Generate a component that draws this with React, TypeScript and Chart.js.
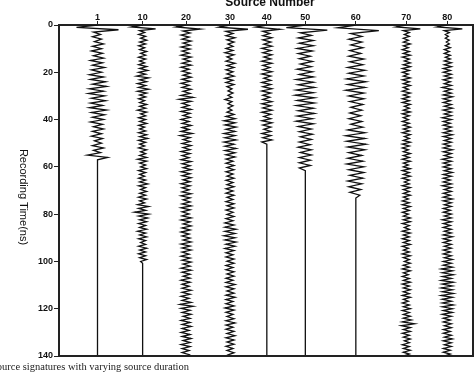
import React, { useEffect, useRef } from 'react';
import { Chart, registerables } from 'chart.js';

Chart.register(...registerables);

// ---- data ----
const X_TITLE = 'Source Number';
const Y_TITLE = 'Recording Time(ns)';
const CAPTION = 'Source signatures with varying source duration';

const SOURCE_LABELS = ['1', '10', '20', '30', '40', '50', '60', '70', '80'];
// trace positions on the (unitless) horizontal display axis 0..100
const TRACE_POS = [9.3, 20.2, 30.7, 41.3, 50.2, 59.5, 71.7, 83.9, 93.8];
const SAMPLE_DT = [1.0, 0.8, 0.85, 0.9, 0.9, 1.1, 1.2, 0.8, 0.8];
const TIME_TICKS = [0, 20, 40, 60, 80, 100, 120, 140];
const T_MAX = 140;
const AMP_GAIN = 0.2415; // amplitude units -> display axis units

const TRACE_1 = [
  -21, 21, -4, 3, -5, 4, -3, 6, -5, 4, -6, 5, -4, 6, -7, 5, -5, 7, -6, 4,
  -8, 6, -7, 8, -5, 9, -8, 6, -9, 7, -6, 8, -7, 5, -8, 9, -6, 7, -5, 6,
  -7, 5, -4, 6, -5, 4, -6, 5, -3, 4, -5, 6, -4, 3, -10, 10,
];
const TRACE_10 = [
  -11, 13, -3, 2, -4, 3, -2, 4, -3, 3, -4, 2, -3, 4, -2, 3, -4, 3, -3, 2,
  -4, 4, -3, 5, -4, 3, -6, 6, -3, 4, -5, 3, -4, 6, -5, 4, -3, 3, -4, 2,
  -3, 4, -3, 3, -5, 4, -2, 3, -4, 3, -3, 4, -4, 2, -3, 3, -4, 4, -3, 5,
  -4, 3, -3, 2, -4, 4, -2, 3, -3, 4, -5, 4, -3, 3, -2, 4, -4, 3, -3, 2,
  -4, 3, -3, 5, -4, 3, -2, 4, -3, 3, -4, 4, -3, 2, -5, 6, -4, 3, -8, 6,
  -4, 5, -3, 4, -4, 3, -3, 4, -5, 3, -3, 4, -4, 3, -2, 3, -4, 4, -3, 3,
  -4, 3, -3, 4, -2,
];
const TRACE_20 = [
  -10, 14, -3, 4, -5, 3, -4, 5, -3, 4, -5, 4, -4, 3, -5, 5, -3, 4, -4, 5,
  -5, 3, -4, 4, -3, 5, -4, 4, -5, 3, -4, 5, -3, 4, -5, 7, -7, 5, -4, 3,
  -4, 5, -5, 4, -3, 4, -5, 3, -4, 5, -4, 3, -5, 6, -6, 4, -3, 4, -4, 5,
  -3, 4, -5, 4, -4, 3, -5, 5, -4, 4, -3, 5, -5, 4, -4, 5, -3, 4, -5, 4,
  -4, 3, -4, 5, -5, 4, -3, 4, -4, 5, -5, 4, -4, 3, -4, 5, -5, 4, -3, 5,
  -4, 4, -5, 3, -4, 4, -3, 5, -5, 4, -4, 5, -4, 3, -5, 4, -4, 5, -3, 4,
  -5, 5, -4, 4, -3, 4, -5, 4, -4, 3, -4, 5, -4, 4, -5, 3, -4, 5, -6, 7,
  -5, 4, -4, 5, -3, 4, -5, 4, -4, 5, -4, 3, -5, 4, -4, 5, -3, 4, -5, 4,
  -4, 3, -4, 3,
];
const TRACE_30 = [
  -11, 18, -4, 3, -4, 5, -3, 4, -2, 3, -4, 3, -5, 4, -3, 2, -4, 5, -3, 4,
  -4, 3, -3, 4, -5, 3, -4, 4, -3, 2, -2, 3, -2, 2, -5, 2, -2, 3, -2, 2,
  -3, 4, -4, 5, -6, 5, -5, 6, -4, 5, -6, 5, -5, 6, -6, 4, -5, 6, -5, 5,
  -4, 5, -4, 3, -4, 4, -3, 4, -4, 3, -3, 4, -4, 3, -3, 4, -4, 3, -4, 4,
  -3, 3, -4, 4, -3, 4, -4, 3, -3, 4, -4, 3, -5, 4, -5, 6, -5, 5, -6, 5,
  -5, 6, -4, 5, -5, 4, -4, 3, -4, 4, -3, 4, -4, 3, -4, 4, -3, 4, -4, 3,
  -4, 5, -4, 4, -3, 4, -4, 5, -4, 3, -4, 4, -5, 4, -4, 3, -3, 4, -4, 5,
  -4, 3, -4, 4, -3, 5, -4, 4, -3, 4, -4, 3, -3, 4, -2,
];
const TRACE_40 = [
  -11, 13, -4, 3, -4, 5, -4, 4, -3, 5, -5, 4, -4, 5, -3, 4, -5, 5, -4, 3,
  -4, 5, -5, 4, -3, 4, -5, 4, -4, 5, -5, 4, -4, 3, -4, 5, -5, 4, -4, 5,
  -5, 4, -3, 4, -5, 5, -4, 4, -3, 4, -5, 4, -4, 5, -5,
];
const TRACE_50 = [
  -19, 22, -5, 6, -7, 8, -6, 8, -8, 7, -7, 5, -6, 7, -5, 6, -8, 7, -6, 8,
  -9, 8, -7, 9, -9, 8, -10, 9, -8, 9, -9, 8, -7, 9, -8, 7, -9, 8, -7, 6,
  -6, 7, -5, 6, -6, 5, -7, 6, -5, 6, -6, 5, -6, 5, -6,
];
const TRACE_60 = [
  -18, 23, -5, 6, -7, 6, -5, 7, -6, 5, -7, 8, -6, 7, -8, 9, -7, 8, -9, 10,
  -8, 9, -10, 8, -7, 8, -6, 7, -5, 6, -6, 5, -7, 6, -5, 7, -8, 9, -10, 9,
  -9, 10, -8, 9, -7, 6, -8, 7, -9, 8, -7, 8, -6, 7, -8, 6, -7, 5, -6, 4,
];
const TRACE_70 = [
  -10, 14, -3, 3, -2, 3, -3, 2, -3, 4, -3, 2, -4, 3, -3, 4, -4, 3, -2, 4,
  -3, 4, -4, 3, -4, 2, -3, 4, -4, 3, -3, 4, -3, 2, -4, 4, -3, 3, -4, 3,
  -4, 4, -2, 3, -3, 4, -4, 3, -3, 2, -4, 3, -3, 4, -3, 3, -4, 4, -2, 3,
  -3, 4, -4, 3, -4, 2, -3, 4, -3, 3, -4, 4, -3, 2, -3, 4, -4, 3, -3, 4,
  -4, 3, -2, 3, -4, 4, -3, 3, -3, 4, -3, 2, -4, 3, -4, 4, -3, 3, -4, 2,
  -3, 4, -3, 4, -4, 3, -2, 3, -4, 4, -3, 3, -4, 3, -3, 4, -4, 2, -3, 3,
  -4, 4, -3, 3, -2, 4, -3, 3, -4, 4, -3, 2, -4, 3, -3, 4, -4, 3, -3, 4,
  -3, 3, -4, 4, -3, 2, -4, 3, -3, 4, -4, 3, -3, 4, -3, 5, -4, 8, -5, 4,
  -3, 4, -4, 3, -3, 4, -2, 3, -4, 3, -3, 4, -3, 3, -3,
];
const TRACE_80 = [
  -10, 15, -3, 2, -2, 1, -2, 2, -1, 2, -2, 3, -3, 2, -3, 3, -2, 3, -3, 4,
  -3, 4, -4, 3, -4, 4, -3, 4, -4, 3, -3, 4, -5, 4, -3, 4, -4, 5, -4, 3,
  -4, 4, -3, 5, -4, 4, -3, 4, -5, 4, -4, 3, -4, 4, -3, 4, -4, 5, -4, 4,
  -3, 4, -4, 3, -4, 5, -4, 4, -3, 4, -5, 4, -4, 3, -4, 4, -3, 5, -4, 4,
  -4, 3, -4, 4, -5, 4, -3, 4, -4, 3, -4, 5, -4, 4, -3, 4, -4, 3, -4, 4,
  -3, 4, -5, 4, -4, 3, -4, 4, -3, 4, -4, 5, -4, 3, -4, 4, -3, 4, -4, 3,
  -4, 4, -3, 5, -4, 4, -4, 5, -6, 5, -5, 6, -5, 4, -6, 6, -5, 5, -6, 5,
  -5, 6, -6, 5, -5, 4, -5, 6, -5, 5, -4, 5, -5, 4, -4, 3, -4, 4, -3, 4,
  -4, 3, -4, 4, -3, 5, -4, 4, -3, 4, -4, 3, -4, 3, -3,
];
const TRACES = [TRACE_1, TRACE_10, TRACE_20, TRACE_30, TRACE_40, TRACE_50, TRACE_60, TRACE_70, TRACE_80];

const FONT = '"Liberation Sans", Arial, Helvetica, sans-serif';

function buildTrace(i: number) {
  const base = TRACE_POS[i];
  const dt = SAMPLE_DT[i];
  const amps = TRACES[i];
  const pts: { x: number; y: number }[] = [{ x: base, y: 0 }];
  amps.forEach((a, k) => {
    const t = (k + 1) * dt;
    if (t <= T_MAX) pts.push({ x: base + a * AMP_GAIN, y: t });
  });
  const tEnd = Math.min((amps.length + 1) * dt, T_MAX);
  pts.push({ x: base, y: tEnd });
  if (tEnd < T_MAX) pts.push({ x: base, y: T_MAX });
  return pts;
}

const overlayPlugin = {
  id: 'overlay',
  afterDraw(chart: any) {
    const { ctx, chartArea: a } = chart;
    ctx.save();
    // right and bottom frame
    ctx.strokeStyle = '#222';
    ctx.lineWidth = 2;
    ctx.beginPath();
    ctx.moveTo(a.right, a.top - 1);
    ctx.lineTo(a.right, a.bottom);
    ctx.lineTo(a.left, a.bottom);
    ctx.stroke();
    // top title
    ctx.fillStyle = '#111';
    ctx.font = `bold 12px ${FONT}`;
    ctx.textAlign = 'center';
    ctx.textBaseline = 'alphabetic';
    ctx.fillText(X_TITLE, (a.left + a.right) / 2 + 4, 6);
    // left title (reads top to bottom)
    ctx.translate(23, 197);
    ctx.rotate(Math.PI / 2);
    ctx.font = `11px ${FONT}`;
    ctx.textBaseline = 'middle';
    ctx.fillText(Y_TITLE, 0, 0);
    ctx.restore();
  },
};

export default function App() {
  const ref = useRef<HTMLCanvasElement | null>(null);

  useEffect(() => {
    if (!ref.current) return;
    const datasets = TRACES.map((_, i) => ({
      label: SOURCE_LABELS[i],
      data: buildTrace(i),
      showLine: true,
      borderColor: '#111',
      borderWidth: 1.3,
      pointRadius: 0,
      tension: 0,
      fill: false,
    }));
    const chart = new Chart(ref.current, {
      type: 'scatter',
      data: { datasets },
      options: {
        animation: false,
        responsive: false,
        maintainAspectRatio: false,
        layout: { padding: { left: 0, top: 0, right: 1, bottom: 20 } },
        plugins: { legend: { display: false }, tooltip: { enabled: false }, title: { display: false } },
        scales: {
          x: {
            type: 'linear',
            position: 'top',
            min: 0,
            max: 100,
            afterBuildTicks: (s: any) => {
              s.ticks = TRACE_POS.map((v) => ({ value: v }));
            },
            afterFit: (s: any) => {
              s.height = 25;
            },
            ticks: {
              autoSkip: false,
              maxRotation: 0,
              padding: -2,
              color: '#111',
              font: { family: FONT, size: 9, weight: 'bold' },
              callback: (_v: any, i: number) => SOURCE_LABELS[i],
            },
            grid: { display: true, drawOnChartArea: false, drawTicks: true, tickLength: 4, color: '#222', lineWidth: 1 },
            border: { display: true, color: '#222', width: 2 },
          },
          y: {
            type: 'linear',
            reverse: true,
            min: 0,
            max: T_MAX,
            afterBuildTicks: (s: any) => {
              s.ticks = TIME_TICKS.map((v) => ({ value: v }));
            },
            afterFit: (s: any) => {
              s.width = 59;
            },
            ticks: {
              padding: 1,
              color: '#111',
              font: { family: FONT, size: 9, weight: 'bold' },
            },
            grid: { display: true, drawOnChartArea: false, drawTicks: true, tickLength: 5, color: '#222', lineWidth: 1 },
            border: { display: true, color: '#222', width: 2 },
          },
        },
      },
      plugins: [overlayPlugin],
    } as any);
    return () => chart.destroy();
  }, []);

  return (
    <div style={{ position: 'absolute', left: 0, top: 0, width: 474, height: 376, overflow: 'hidden', background: '#fff' }}>
      <canvas ref={ref} width={474} height={376} style={{ width: 474, height: 376, display: 'block' }} />
      <div
        style={{
          position: 'absolute',
          left: -9,
          top: 361,
          font: '10.5px "Liberation Serif", "Times New Roman", serif',
          color: '#222',
          whiteSpace: 'nowrap',
          lineHeight: '12px',
        }}
      >
        {CAPTION}
      </div>
    </div>
  );
}
